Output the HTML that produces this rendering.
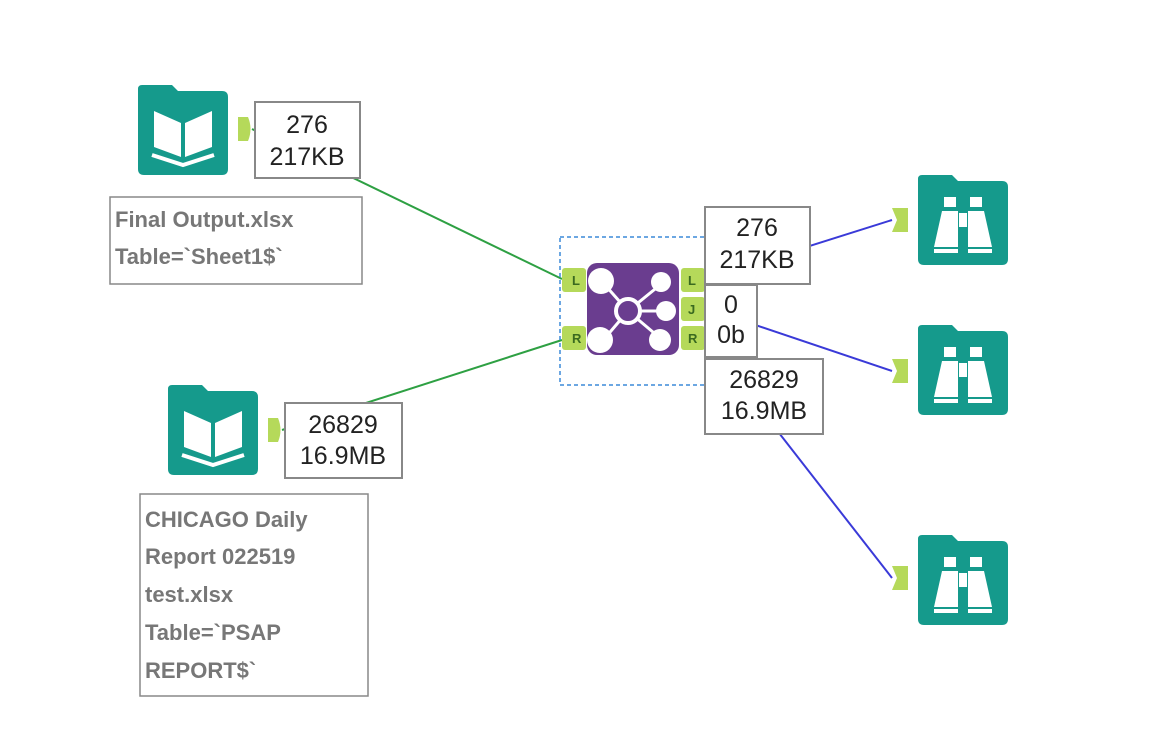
<!DOCTYPE html>
<html><head><style>
html,body{margin:0;padding:0;background:#fff;}
svg{display:block;}
text{font-family:"Liberation Sans",sans-serif;}
.n{font-size:25px;fill:#222;text-anchor:middle;}
.l{font-size:22px;fill:#777;font-weight:bold;}
</style></head><body>
<svg width="1164" height="745" viewBox="0 0 1164 745" xmlns="http://www.w3.org/2000/svg">
<defs>
<g id="folder">
<path d="M4,0 H34 L40,6 H84 Q90,6 90,12 V84 Q90,90 84,90 H6 Q0,90 0,84 V4 Q0,0 4,0 Z" fill="#159a8c"/>
</g>
<g id="book">
<use href="#folder"/>
<path d="M16,26 L43,38 V72 L16,62 Z M74,26 L47,38 V72 L74,62 Z" fill="#fff"/>
<path d="M14,70 L45,80 L76,70" stroke="#fff" stroke-width="4" fill="none"/>
</g>
<g id="bino">
<use href="#folder"/>
<rect x="26" y="22" width="12" height="10" fill="#fff"/>
<rect x="52" y="22" width="12" height="10" fill="#fff"/>
<path d="M24,36 H40 V72 H16 Z M50,36 H66 L74,72 H50 Z" fill="#fff"/>
<rect x="41" y="38" width="8" height="14" fill="#fff"/>
<rect x="16" y="74" width="24" height="4" fill="#fff"/>
<rect x="50" y="74" width="24" height="4" fill="#fff"/>
</g>
</defs>
<!-- connectors -->
<line x1="252" y1="129" x2="562" y2="279" stroke="#2ea043" stroke-width="2"/>
<line x1="282" y1="430" x2="562" y2="340" stroke="#2ea043" stroke-width="2"/>
<line x1="705" y1="279" x2="892" y2="220" stroke="#3a3ad8" stroke-width="2"/>
<line x1="705" y1="308" x2="892" y2="371" stroke="#3a3ad8" stroke-width="2"/>
<line x1="705" y1="338" x2="892" y2="578" stroke="#3a3ad8" stroke-width="2"/>
<!-- inputs -->
<use href="#book" x="138" y="85"/>
<path d="M238,117 H248 Q253,129 248,141 H238 Z" fill="#b5d95a"/>
<rect x="255" y="102" width="105" height="76" fill="#fff" stroke="#888" stroke-width="2"/>
<text class="n" x="307" y="133">276</text><text class="n" x="307" y="165">217KB</text>
<rect x="110" y="197" width="252" height="87" fill="#fff" stroke="#888" stroke-width="1.5"/>
<text class="l" x="115" y="227">Final Output.xlsx</text>
<text class="l" x="115" y="264">Table=`Sheet1$`</text>

<use href="#book" x="168" y="385"/>
<path d="M268,418 H278 Q283,430 278,442 H268 Z" fill="#b5d95a"/>
<rect x="285" y="403" width="117" height="75" fill="#fff" stroke="#888" stroke-width="2"/>
<text class="n" x="343" y="433">26829</text><text class="n" x="343" y="464">16.9MB</text>
<rect x="140" y="494" width="228" height="202" fill="#fff" stroke="#888" stroke-width="1.5"/>
<text class="l" x="145" y="527">CHICAGO Daily</text>
<text class="l" x="145" y="564">Report 022519</text>
<text class="l" x="145" y="602">test.xlsx</text>
<text class="l" x="145" y="640">Table=`PSAP</text>
<text class="l" x="145" y="678">REPORT$`</text>
<!-- join -->
<rect x="560" y="237" width="145" height="148" fill="none" stroke="#3b8ad8" stroke-width="1.5" stroke-dasharray="4,3"/>
<rect x="587" y="263" width="92" height="92" rx="10" fill="#6a3d8f"/>
<g stroke="#fff" stroke-width="3">
<line x1="628" y1="311" x2="605" y2="285"/><line x1="628" y1="311" x2="660" y2="285"/>
<line x1="628" y1="311" x2="605" y2="338"/><line x1="628" y1="311" x2="660" y2="338"/>
<line x1="628" y1="311" x2="668" y2="311"/>
</g>
<g fill="#fff">
<circle cx="601" cy="281" r="13"/><circle cx="661" cy="282" r="10"/>
<circle cx="666" cy="311" r="10"/><circle cx="600" cy="340" r="13"/><circle cx="660" cy="340" r="11"/>
</g>
<circle cx="628" cy="311" r="12" fill="#6a3d8f" stroke="#fff" stroke-width="4"/>
<g font-size="13" font-weight="bold" fill="#3a6a20" font-family="Liberation Sans">
<rect x="562" y="268" width="24" height="24" rx="3" fill="#b5d95a"/><text x="572" y="285">L</text>
<rect x="562" y="326" width="24" height="24" rx="3" fill="#b5d95a"/><text x="572" y="343">R</text>
<rect x="681" y="268" width="24" height="24" rx="3" fill="#b5d95a"/><text x="688" y="285">L</text>
<rect x="681" y="297" width="24" height="24" rx="3" fill="#b5d95a"/><text x="688" y="314">J</text>
<rect x="681" y="326" width="24" height="24" rx="3" fill="#b5d95a"/><text x="688" y="343">R</text>
</g>
<rect x="705" y="207" width="105" height="77" fill="#fff" stroke="#888" stroke-width="2"/>
<text class="n" x="757" y="236">276</text><text class="n" x="757" y="268">217KB</text>
<rect x="705" y="285" width="52" height="72" fill="#fff" stroke="#888" stroke-width="2"/>
<text class="n" x="731" y="313">0</text><text class="n" x="731" y="343">0b</text>
<rect x="705" y="359" width="118" height="75" fill="#fff" stroke="#888" stroke-width="2"/>
<text class="n" x="764" y="388">26829</text><text class="n" x="764" y="419">16.9MB</text>
<!-- outputs -->
<path d="M892,208 H908 V232 H892 L897,220 Z" fill="#b5d95a"/>
<use href="#bino" x="918" y="175"/>
<path d="M892,359 H908 V383 H892 L897,371 Z" fill="#b5d95a"/>
<use href="#bino" x="918" y="325"/>
<path d="M892,566 H908 V590 H892 L897,578 Z" fill="#b5d95a"/>
<use href="#bino" x="918" y="535"/>
</svg>
</body></html>
